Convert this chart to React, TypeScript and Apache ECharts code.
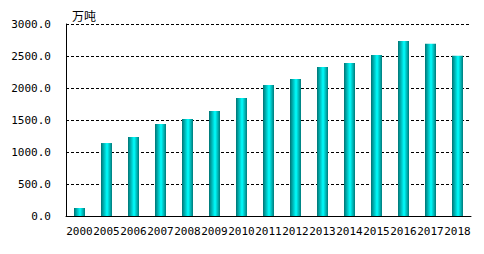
import React, { useEffect, useRef } from "react";
import * as echarts from "echarts";

const categories = ["2000", "2005", "2006", "2007", "2008", "2009", "2010", "2011", "2012", "2013", "2014", "2015", "2016", "2017", "2018"];
const values = [125, 1140, 1234, 1437, 1515, 1640, 1844, 2047, 2140, 2328, 2390, 2515, 2734, 2693, 2505];
const unitLabel = "万吨";

export default function App() {
  const ref = useRef<HTMLDivElement>(null);
  useEffect(() => {
    if (!ref.current) return;
    const chart = echarts.init(ref.current, null, { renderer: "svg" });
    const mono = "'DejaVu Sans Mono', 'Liberation Mono', monospace";
    chart.setOption({
      animation: false,
      backgroundColor: "#ffffff",
      grid: { left: 66, right: 13, top: 24, bottom: 38 },
      graphic: [
        {
          type: "text",
          left: 72,
          top: 9,
          style: { text: unitLabel, font: "12px 'Noto Sans CJK SC'", fill: "#000" },
        },
      ],
      xAxis: {
        type: "category",
        data: categories,
        axisLine: { lineStyle: { color: "#000", width: 1 } },
        axisTick: { inside: true, length: 4, lineStyle: { color: "#000" } },
        axisLabel: { interval: 0, margin: 10, color: "#000", fontFamily: mono, fontSize: 11 },
      },
      yAxis: {
        type: "value",
        min: 0,
        max: 3000,
        interval: 500,
        axisLine: { show: true, lineStyle: { color: "#000", width: 1 } },
        axisTick: { show: true, inside: true, length: 3, lineStyle: { color: "#000" } },
        axisLabel: {
          margin: 15,
          color: "#000",
          fontFamily: mono,
          fontSize: 11,
          formatter: (v: number) => v.toFixed(1),
        },
        splitLine: { show: true, lineStyle: { color: "#000", type: [3, 2], width: 1 } },
      },
      series: [
        {
          type: "bar",
          data: values,
          barWidth: 11,
          itemStyle: {
            color: new echarts.graphic.LinearGradient(0, 0, 1, 0, [
              { offset: 0, color: "#007373" },
              { offset: 0.55, color: "#00ffff" },
              { offset: 1, color: "#007a7a" },
            ]),
          },
        },
      ],
    });
    return () => chart.dispose();
  }, []);
  return <div ref={ref} style={{ position: "fixed", left: 0, top: 0, width: 484, height: 254 }} />;
}
